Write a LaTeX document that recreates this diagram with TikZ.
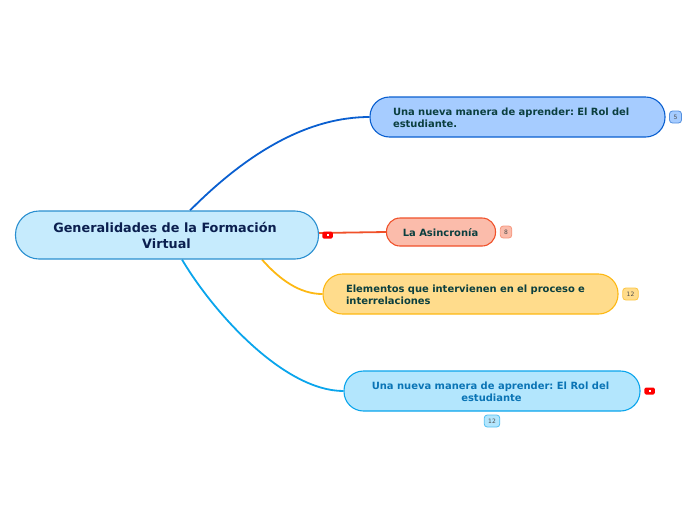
\documentclass[tikz,border=0pt]{standalone}
\usepackage{fontspec}
\setmainfont{DejaVu Sans}
\usetikzlibrary{calc,backgrounds}
\definecolor{rootfill}{HTML}{C6EBFD}\definecolor{rootline}{HTML}{2A8FD0}\definecolor{roottext}{HTML}{0B1F4F}
\definecolor{bfill}{HTML}{A6CCFF}\definecolor{bline}{HTML}{0A5FD0}
\definecolor{rfill}{HTML}{FBBCAB}\definecolor{rline}{HTML}{F0512A}
\definecolor{yfill}{HTML}{FFDC8C}\definecolor{yline}{HTML}{FDB813}
\definecolor{cfill}{HTML}{B3E6FD}\definecolor{cline}{HTML}{0AA5EC}\definecolor{ctext}{HTML}{0A74B5}
\definecolor{dtext}{HTML}{0B3F3F}
\frenchspacing
\tikzset{
 x=1pt,y=-1pt,
 topic/.style={rounded corners=19.5pt,line width=1.1pt,font=\frenchspacing\bfseries\fontsize{9.95}{12}\selectfont,text=dtext,inner sep=0pt,anchor=center},
 badge/.style={rounded corners=3pt,line width=.8pt,font=\fontsize{6}{6}\selectfont,text=black!70,inner sep=0pt,anchor=center,minimum height=12pt},
 play/.style={fill=red,rounded corners=1.5pt,inner sep=0pt,minimum width=10.5pt,minimum height=7pt,anchor=center},
 playdot/.style={fill=white,inner sep=0pt,minimum size=2pt,anchor=center},
 link/.style={line width=1.8pt}
}
\begin{document}
\begin{tikzpicture}
\useasboundingbox (0,0) rectangle (696,520);
\node[topic,draw=rootline,fill=rootfill,text=roottext,rounded corners=23.5pt,minimum width=303pt,minimum height=48pt,align=center,font=\frenchspacing\bfseries\fontsize{12.8}{16}\selectfont] (root) at (167,235) {\hspace*{-4pt}Generalidades de la Formación\\\hspace*{-1pt}Virtual};
\node[topic,draw=bline,fill=bfill,minimum width=295pt,minimum height=40pt,text width=249pt,align=left] (n1) at (517.5,117) {\rule{0pt}{8.5pt}Una nueva manera de aprender: El Rol del\\estudiante.};
\node[topic,draw=rline,fill=rfill,minimum width=109pt,minimum height=28pt,rounded corners=13.5pt,align=center] (n2) at (441,232) {\rule{0pt}{8.5pt}\hspace*{-1pt}La Asincronía};
\node[topic,draw=yline,fill=yfill,minimum width=295pt,minimum height=40pt,text width=249pt,align=left] (n3) at (470.5,294) {\rule{0pt}{8.5pt}Elementos que intervienen en el proceso e\\interrelaciones};
\node[topic,draw=cline,fill=cfill,text=ctext,minimum width=296pt,minimum height=40pt,align=center] (n4) at (492,391) {\rule{0pt}{8.5pt}\hspace*{-3pt}Una nueva manera de aprender: El Rol del\\\hspace*{-1pt}estudiante};
\node[badge,draw=bline!70,fill=bfill,minimum width=12pt] (b1) at (675.5,117) {5};
\node[badge,draw=rline!60,fill=rfill,minimum width=11.5pt] (b2) at (506,232) {8};
\node[badge,draw=yline!80,fill=yfill,minimum width=15.5pt] (b3) at (630.5,294) {12};
\node[badge,draw=cline!70,fill=cfill,minimum width=15.5pt] (b4) at (492,421) {12};
\node[play] (p1) at (327.5,235) {};
\node[playdot] (d1) at (p1) {};
\node[play] (p2) at (649.5,391) {};
\node[playdot] (d2) at (p2) {};
\begin{scope}[on background layer]
\draw[link,draw=bline] ([xshift=23pt]root.north) .. controls (250,150) and (310,117) .. (n1.west);
\draw[link,draw=rline] ([yshift=2pt]root.east) -- (n2.west);
\draw[link,draw=yline] ([xshift=95pt]root.south) .. controls (280,280) and (300,294) .. (n3.west);
\draw[link,draw=cline] ([xshift=15pt]root.south) .. controls (215,315) and (285,391) .. (n4.west);
\end{scope}
\end{tikzpicture}
\end{document}
